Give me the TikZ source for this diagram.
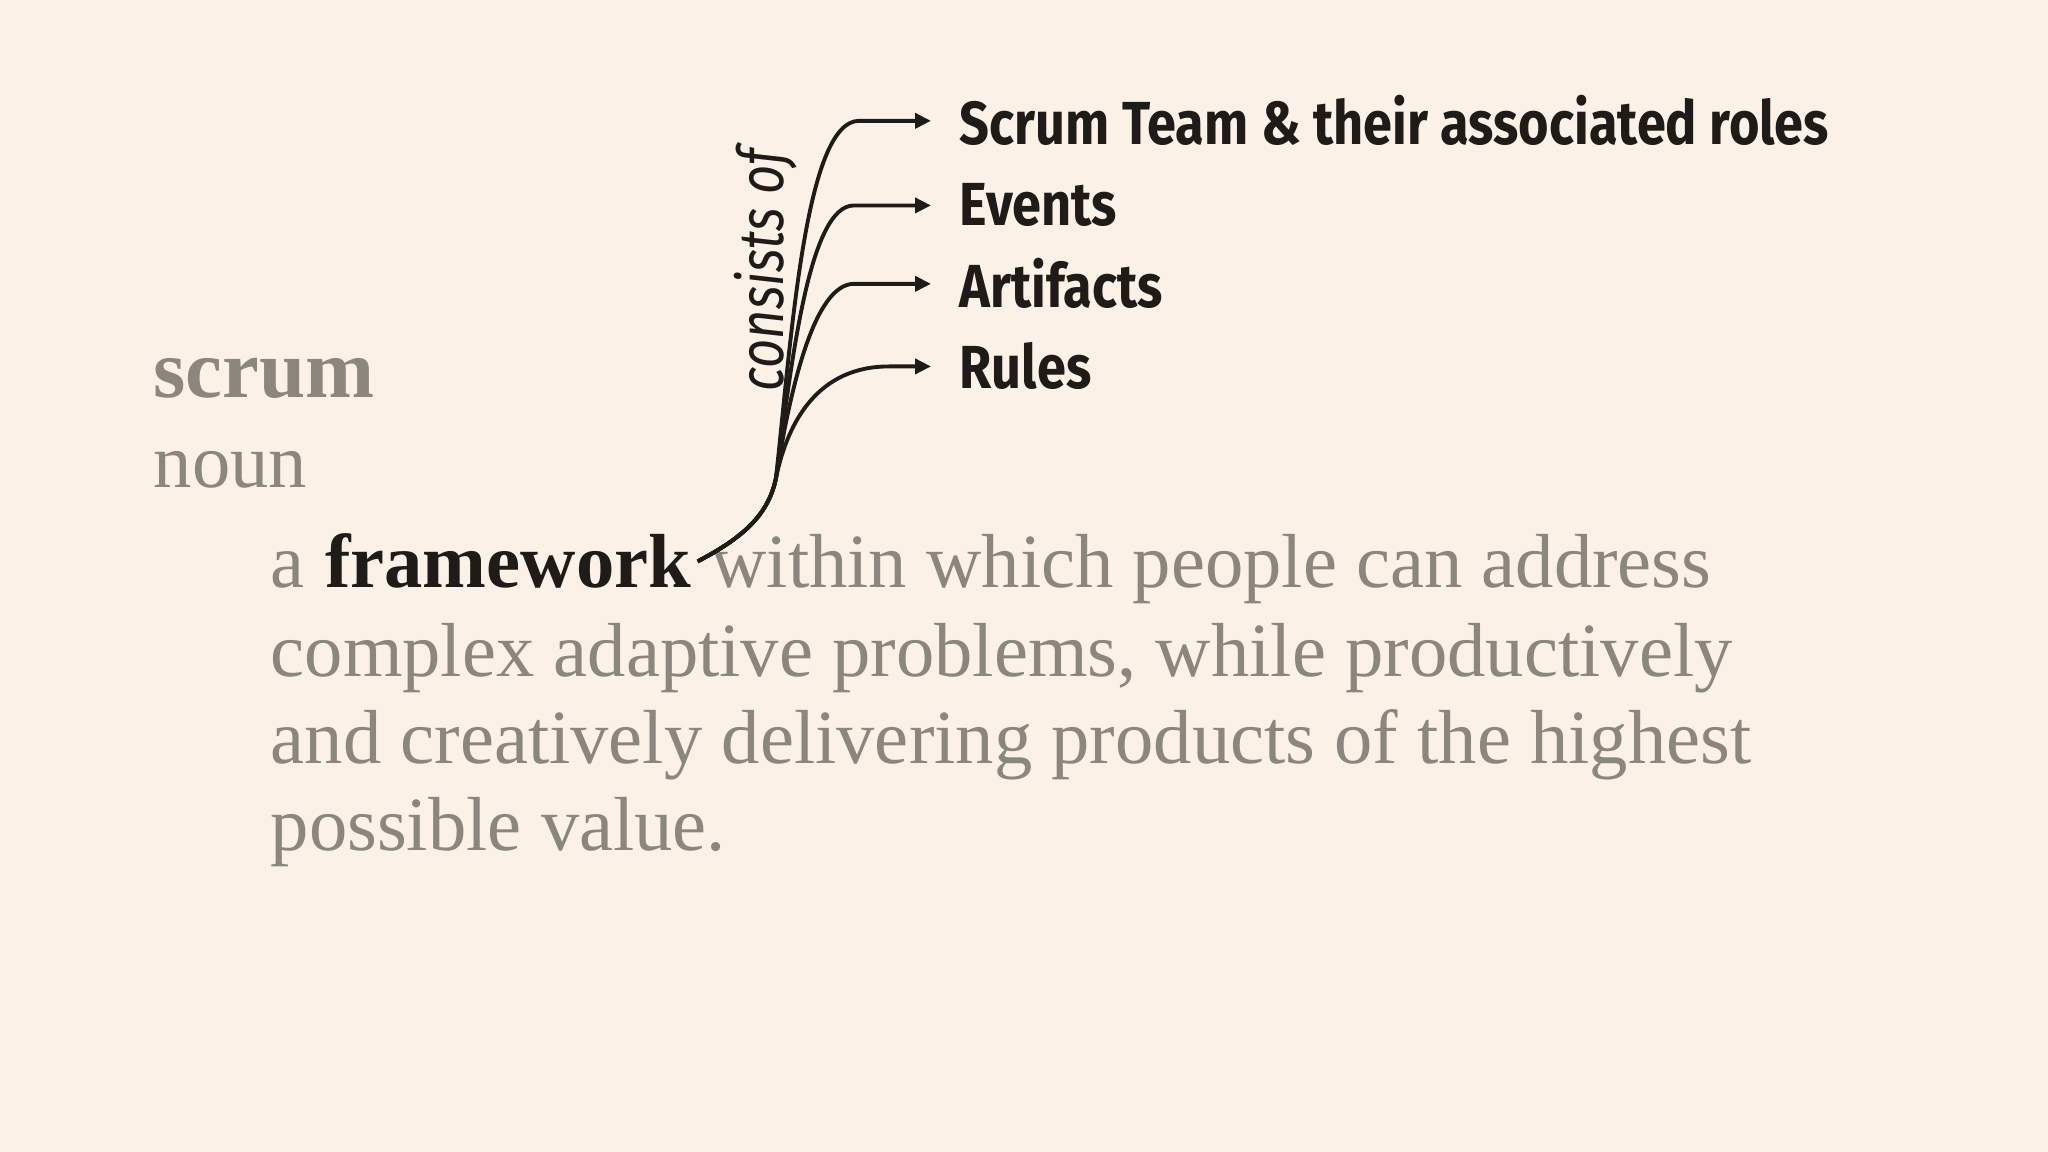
\documentclass[tikz,border=0pt]{standalone}
\usepackage{fontspec}
\setmainfont{Liberation Serif}
\newfontfamily\itemfont[FakeStretch=0.86]{Fira Sans}
\newfontfamily\notefont[FakeStretch=0.8]{Fira Sans}
\usetikzlibrary{arrows.meta, positioning, calc}
\definecolor{paper}{HTML}{FBF1E6}
\definecolor{ink}{HTML}{1E1B18}
\definecolor{faded}{HTML}{8B867E}
\tikzset{body/.style={inner sep=0pt, anchor=base west, text=faded, font=\fontsize{21.8}{25}\selectfont}}
\tikzset{item/.style={inner sep=0pt, anchor=base west, text=ink, font=\itemfont\bfseries\fontsize{17.3}{20}\selectfont}}

\begin{document}
\begin{tikzpicture}[x=0.1mm, y=-0.1mm, conn/.style={draw=ink, line width=1.1pt, -{Triangle[length=1.6mm,width=1.5mm]}}]

    \fill[paper] (0,0) rectangle (2048,1152);

    % dictionary entry
    \node[body, font=\bfseries\fontsize{23.6}{28}\selectfont] (term) at (153,398) {scrum};
    \node[body] (pos) at (153,488) {noun};

    \node[body] (art) at (270,588) {a};
    \node[body, text=ink, font=\bfseries\fontsize{21.8}{25}\selectfont] (fw) at ([xshift=1.9mm]art.base east) {framework};
    \node[body] (rest) at ([xshift=1.9mm]fw.base east) {within which people can address};
    \node[body] (line2) at (270,677) {complex adaptive problems, while productively};
    \node[body] (line3) at (270,764) {and creatively delivering products of the highest};
    \node[body] (line4) at (270,851) {possible value.};

    % parts
    \node[item] (team) at (959,145) {Scrum Team \& their associated roles};
    \node[item] (events) at (959,226) {Events};
    \node[item] (artifacts) at (959,308) {Artifacts};
    \node[item] (rules) at (959,389) {Rules};

    \node[rotate=90, anchor=base west, inner sep=0pt, text=ink, font=\notefont\itshape\fontsize{18}{21}\selectfont] (rel) at (783,392) {consists of};

    \coordinate (fork) at (776,478);

    \draw[conn] ([xshift=0.6mm]fw.east) .. controls (738,540) and (768,518) .. (fork) .. controls (792,330) and ([xshift=-15.3mm]team.west) .. ([xshift=-10mm]team.west) -- ([xshift=-2.8mm]team.west);
    \draw[conn] ([xshift=0.6mm]fw.east) .. controls (738,540) and (768,518) .. (fork) .. controls (792,360) and ([xshift=-15mm]events.west) .. ([xshift=-10.5mm]events.west) -- ([xshift=-2.8mm]events.west);
    \draw[conn] ([xshift=0.6mm]fw.east) .. controls (738,540) and (768,518) .. (fork) .. controls (790,390) and ([xshift=-14.5mm]artifacts.west) .. ([xshift=-10.5mm]artifacts.west) -- ([xshift=-2.8mm]artifacts.west);
    \draw[conn] ([xshift=0.6mm]fw.east) .. controls (738,540) and (768,518) .. (fork) .. controls (788,420) and ([xshift=-14mm]rules.west) .. ([xshift=-7mm]rules.west) -- ([xshift=-2.8mm]rules.west);

\end{tikzpicture}
\end{document}
